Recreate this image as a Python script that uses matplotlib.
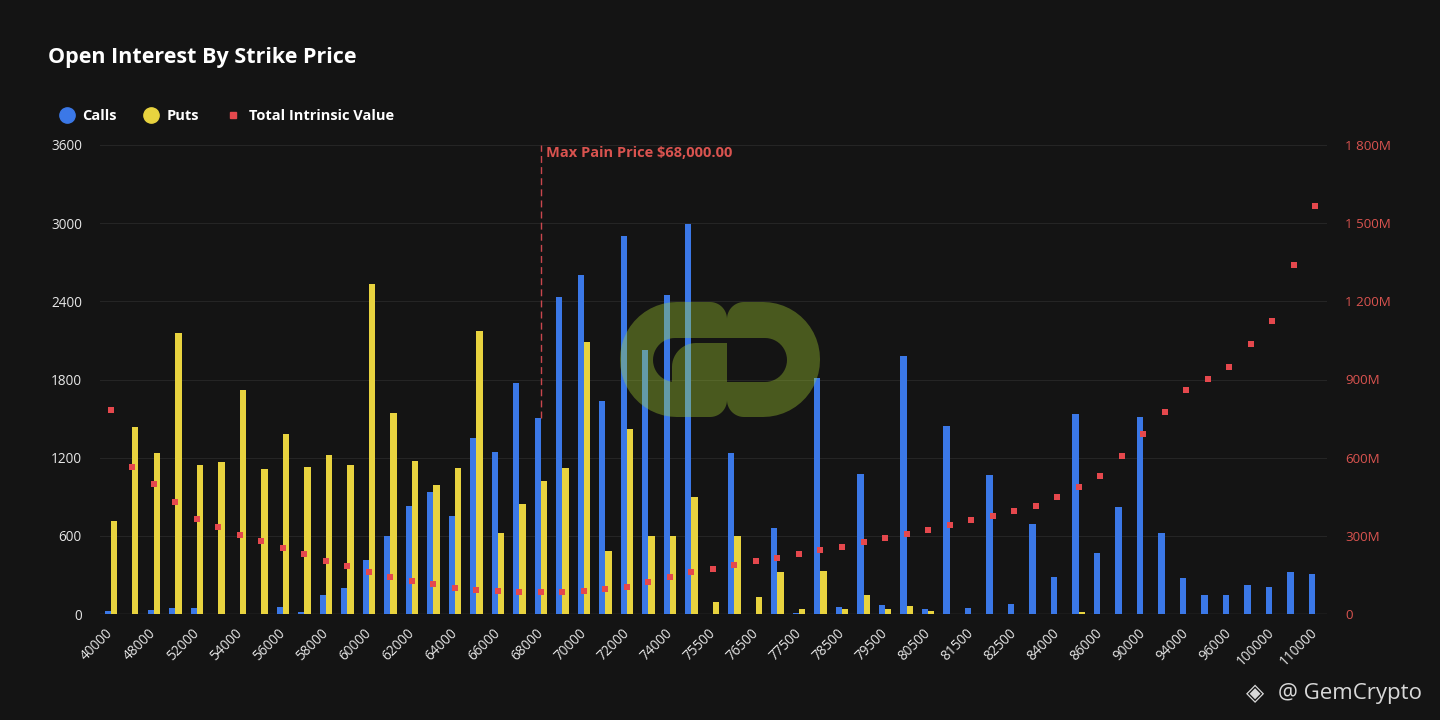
import numpy as np
import matplotlib.pyplot as plt
from matplotlib.lines import Line2D
from matplotlib.path import Path
from matplotlib.patches import PathPatch

plt.rcParams['font.family'] = ['Open Sans', 'DejaVu Sans']

strikes = ['40000', '45000', '48000', '50000', '52000', '53000', '54000', '55000',
           '56000', '57000', '58000', '59000', '60000', '61000', '62000', '63000',
           '64000', '65000', '66000', '67000', '68000', '69000', '70000', '71000',
           '72000', '73000', '74000', '75000', '75500', '76000', '76500', '77000',
           '77500', '78000', '78500', '79000', '79500', '80000', '80500', '81000',
           '81500', '82000', '82500', '83000', '84000', '85000', '86000', '88000',
           '90000', '92000', '94000', '95000', '96000', '98000', '100000', '105000',
           '110000']
calls = [20, 0, 30, 44, 44, 0, 0, 0, 51, 15,
         146, 200, 412, 599, 826, 936, 755, 1351, 1241, 1775,
         1507, 2431, 2602, 1637, 2899, 2026, 2448, 2991, 0, 1233,
         0, 660, 8, 1811, 51, 1074, 72, 1978, 36, 1443,
         44, 1067, 80, 691, 286, 1535, 470, 819, 1509, 619,
         276, 146, 146, 223, 205, 322, 305]
puts = [716, 1433, 1233, 2154, 1141, 1169, 1719, 1110, 1379, 1131,
        1223, 1141, 2530, 1545, 1177, 993, 1120, 2172, 624, 844,
        1021, 1120, 2088, 486, 1417, 599, 599, 900, 92, 599,
        128, 320, 36, 330, 36, 146, 36, 64, 25, 0,
        0, 0, 0, 0, 0, 15, 0, 0, 0, 0,
        0, 0, 0, 0, 0, 0, 0]
# total intrinsic value, millions
intrinsic = [783, 565, 498, 429, 363, 335, 303, 280, 252, 230,
             202, 184, 161, 142, 128, 115, 101, 92, 87, 83,
             83, 83, 87, 96, 105, 124, 142, 160, 174, 189,
             202, 216, 230, 244, 258, 276, 290, 308, 322, 340,
             360, 377, 395, 415, 450, 489, 530, 608, 690, 774,
             861, 902, 948, 1036, 1123, 1340, 1566]
max_pain = '68000'

bg = '#141414'
blue = '#3b78e7'
yellow = '#e8d33f'
red = '#e5484d'
red_txt = '#d9534f'

fig = plt.figure(figsize=(14.4, 7.2), dpi=100, facecolor=bg)
ax = fig.add_axes([100/1440, 106/720, 1227/1440, 469/720])
ax.set_facecolor(bg)

x = np.arange(len(strikes))
w = 0.29
ax.bar(x - w/2, calls, w, color=blue, zorder=3)
ax.bar(x + w/2, puts, w, color=yellow, zorder=3)
ax.set_xlim(-0.5, len(strikes) - 0.45)
ax.set_ylim(0, 3600)
ax.set_yticks(range(0, 3601, 600))
ax.grid(axis='y', color='#252525', lw=0.8, zorder=0)
ax.axhline(0, color='#3a3a3a', lw=1, zorder=1)
for s in ax.spines.values():
    s.set_visible(False)
ax.set_xticks(x[::2])
ax.set_xticklabels(strikes[::2], rotation=45, ha='right', va='center',
                   rotation_mode='anchor')
ax.tick_params(axis='x', colors='#e6e6e6', length=0, labelsize=9.8, pad=12)
ax.tick_params(axis='y', colors='#e6e6e6', length=0, labelsize=9.8, pad=13)

ax2 = ax.twinx()
ax2.scatter(x, intrinsic, marker='s', s=14, color=red, zorder=3, linewidths=0)
ax2.set_ylim(0, 1800)
ax2.set_yticks(range(0, 1801, 300))
ax2.set_yticklabels(['0'] + [f'{v:,}M'.replace(',', ' ') for v in range(300, 1801, 300)])
ax2.tick_params(axis='y', colors=red_txt, length=0, labelsize=9.6, pad=13)
for s in ax2.spines.values():
    s.set_visible(False)

mp = strikes.index(max_pain)
ax.vlines(mp, max(calls[mp], puts[mp]), 3600, color='#c9474d', lw=1,
          linestyles=(0, (5, 3)), zorder=2)
ax.text(mp + 0.25, 3590, 'Max Pain Price $68,000.00', color=red_txt,
        fontsize=10.5, fontweight='bold', va='top', ha='left', zorder=5)

fig.text(48/1440, 1 - 57/720, 'Open Interest By Strike Price', color='white',
         fontsize=15.5, fontweight='bold', va='center', ha='left')

handles = [
    Line2D([], [], marker='o', ls='', markersize=11, color=blue, label='Calls'),
    Line2D([], [], marker='o', ls='', markersize=11, color=yellow, label='Puts'),
    Line2D([], [], marker='s', ls='', markersize=4, color=red, label='Total Intrinsic Value'),
]
leg = fig.legend(handles=handles, loc='center left', bbox_to_anchor=(60/1440, 1 - 116/720),
                 ncol=3, frameon=False, borderpad=0, borderaxespad=0,
                 handlelength=1.0, handletextpad=0.55, columnspacing=1.85,
                 prop={'size': 10.5, 'weight': 'bold'})
for t in leg.get_texts():
    t.set_color('white')


# watermark logo, drawn in pixel coords (y down)
def rrect(x0, y0, x1, y1, radii):
    tl, tr, br, bl = radii
    pts = []
    for cx, cy, r, a0 in [(x0 + tl, y0 + tl, tl, np.pi), (x1 - tr, y0 + tr, tr, 1.5 * np.pi),
                          (x1 - br, y1 - br, br, 0.0), (x0 + bl, y1 - bl, bl, 0.5 * np.pi)]:
        t = np.linspace(a0, a0 + np.pi / 2, 14)
        pts.extend(zip(cx + r * np.cos(t), cy + r * np.sin(t)))
    return np.array(pts)


rings = [rrect(620, 302, 727, 417, [57, 17, 17, 57]),
         rrect(727, 302, 820, 417, [17, 57, 57, 17]),
         rrect(653, 338, 787, 382, [22, 22, 22, 22])[::-1],
         rrect(672, 343, 727, 400, [24, 0, 0, 0])]
verts, codes = [], []
for r in rings:
    verts.extend(r)
    verts.append(r[0])
    codes.extend([Path.MOVETO] + [Path.LINETO] * (len(r) - 1) + [Path.CLOSEPOLY])
ov = fig.add_axes([0, 0, 1, 1], zorder=10)
ov.set_xlim(0, 1440)
ov.set_ylim(720, 0)
ov.axis('off')
ov.patch.set_alpha(0)
ov.add_patch(PathPatch(Path(verts, codes), facecolor='#aedc31', alpha=0.35, lw=0))

fig.text(1246/1440, 1 - 693/720, '\u25c8', color='#d8d8d8', fontsize=17,
         family='DejaVu Sans', va='center', ha='left')
fig.text(1278/1440, 1 - 693/720, '@ GemCrypto', color='#d8d8d8', fontsize=16,
         va='center', ha='left')

fig.savefig('out.png', dpi=100, facecolor=bg)
